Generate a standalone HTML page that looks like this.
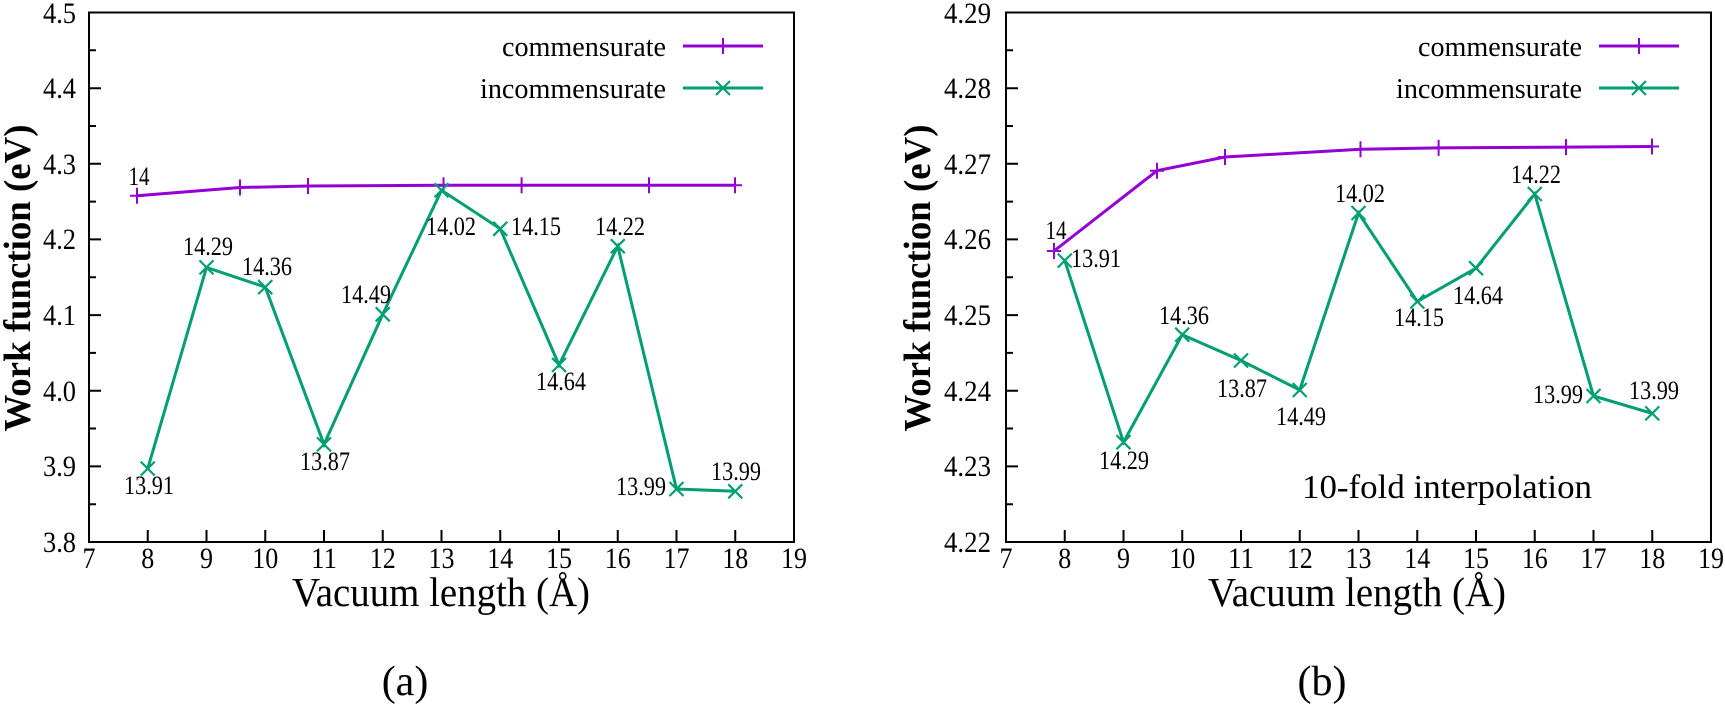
<!DOCTYPE html>
<html><head><meta charset="utf-8"><style>
html,body{margin:0;padding:0;background:#fff;}
svg{display:block;}
text{font-family:"Liberation Serif","DejaVu Serif",serif;}
</style></head><body>
<svg width="1725" height="708" viewBox="0 0 1725 708" xmlns="http://www.w3.org/2000/svg" font-family="Liberation Serif, serif">
<defs>
<g id="pl"><path d="M-7 0H7M0 -8V8" stroke="#9400d3" stroke-width="2"/></g>
<g id="xm"><path d="M-7 -7L7 7M-7 7L7 -7" stroke="#009e73" stroke-width="2.2"/></g>
</defs>

<!-- ============ LEFT PLOT ============ -->
<g stroke="#000" stroke-width="2" fill="none">
<rect x="89" y="12.5" width="705" height="529.5"/>
<path d="M89 542h12M89 466.4h12M89 390.7h12M89 315.1h12M89 239.4h12M89 163.8h12M89 88.2h12
M89 504.2h7M89 428.5h7M89 352.9h7M89 277.3h7M89 201.6h7M89 126h7M89 50.3h7"/>
<path d="M147.75 542v-12M206.5 542v-12M265.25 542v-12M324 542v-12M382.75 542v-12M441.5 542v-12M500.25 542v-12M559 542v-12M617.75 542v-12M676.5 542v-12M735.25 542v-12"/>
</g>
<g font-size="30" text-anchor="end">
<text x="76" y="552" textLength="33" lengthAdjust="spacingAndGlyphs">3.8</text><text x="76" y="476" textLength="33" lengthAdjust="spacingAndGlyphs">3.9</text><text x="76" y="401" textLength="33" lengthAdjust="spacingAndGlyphs">4.0</text>
<text x="76" y="325" textLength="33" lengthAdjust="spacingAndGlyphs">4.1</text><text x="76" y="249" textLength="33" lengthAdjust="spacingAndGlyphs">4.2</text><text x="76" y="174" textLength="33" lengthAdjust="spacingAndGlyphs">4.3</text>
<text x="76" y="98" textLength="33" lengthAdjust="spacingAndGlyphs">4.4</text><text x="76" y="23" textLength="33" lengthAdjust="spacingAndGlyphs">4.5</text>
</g>
<g font-size="30" text-anchor="middle">
<text x="89" y="568" textLength="13" lengthAdjust="spacingAndGlyphs">7</text><text x="147.75" y="568" textLength="13" lengthAdjust="spacingAndGlyphs">8</text><text x="206.5" y="568" textLength="13" lengthAdjust="spacingAndGlyphs">9</text>
<text x="265.25" y="568" textLength="26" lengthAdjust="spacingAndGlyphs">10</text><text x="324" y="568" textLength="26" lengthAdjust="spacingAndGlyphs">11</text><text x="382.75" y="568" textLength="26" lengthAdjust="spacingAndGlyphs">12</text>
<text x="441.5" y="568" textLength="26" lengthAdjust="spacingAndGlyphs">13</text><text x="500.25" y="568" textLength="26" lengthAdjust="spacingAndGlyphs">14</text><text x="559" y="568" textLength="26" lengthAdjust="spacingAndGlyphs">15</text>
<text x="617.75" y="568" textLength="26" lengthAdjust="spacingAndGlyphs">16</text><text x="676.5" y="568" textLength="26" lengthAdjust="spacingAndGlyphs">17</text><text x="735.25" y="568" textLength="26" lengthAdjust="spacingAndGlyphs">18</text>
<text x="794" y="568" textLength="26" lengthAdjust="spacingAndGlyphs">19</text>
</g>
<text x="441" y="606" font-size="41" text-anchor="middle" textLength="298" lengthAdjust="spacingAndGlyphs">Vacuum length (Å)</text>
<text transform="translate(30,278) rotate(-90)" font-size="38" font-weight="bold" text-anchor="middle" textLength="307" lengthAdjust="spacingAndGlyphs">Work function (eV)</text>
<text x="405" y="695" font-size="42" text-anchor="middle">(a)</text>

<g font-size="29" text-anchor="end">
<text x="666" y="56" textLength="164" lengthAdjust="spacingAndGlyphs">commensurate</text>
<text x="666" y="98" textLength="186" lengthAdjust="spacingAndGlyphs">incommensurate</text>
</g>
<path d="M683 46H763" stroke="#9400d3" stroke-width="3"/><use href="#pl" x="723" y="46"/>
<path d="M683 88H763" stroke="#009e73" stroke-width="3"/><use href="#xm" x="723" y="88"/>

<polyline fill="none" stroke="#9400d3" stroke-width="3" points="137,195.7 240,187.5 308,186 443.5,185.3 521.6,185.3 649,185.3 735,185.3"/>
<g><use href="#pl" x="137" y="195.7"/><use href="#pl" x="240" y="187.5"/><use href="#pl" x="308" y="186"/><use href="#pl" x="443.5" y="185.3"/><use href="#pl" x="521.6" y="185.3"/><use href="#pl" x="649" y="185.3"/><use href="#pl" x="735" y="185.3"/></g>
<polyline fill="none" stroke="#009e73" stroke-width="3" points="147.75,468.6 206.5,267.4 265.25,287.1 324,444.4 382.75,314.3 441.5,190.3 500.25,228.8 559,365 617.75,246.2 676.5,489 735.25,491.3"/>
<g><use href="#xm" x="147.75" y="468.6"/><use href="#xm" x="206.5" y="267.4"/><use href="#xm" x="265.25" y="287.1"/><use href="#xm" x="324" y="444.4"/><use href="#xm" x="382.75" y="314.3"/><use href="#xm" x="441.5" y="190.3"/><use href="#xm" x="500.25" y="228.8"/><use href="#xm" x="559" y="365"/><use href="#xm" x="617.75" y="246.2"/><use href="#xm" x="676.5" y="489"/><use href="#xm" x="735.25" y="491.3"/></g>
<g font-size="26" text-anchor="middle">
<text x="139" y="185" textLength="21" lengthAdjust="spacingAndGlyphs">14</text>
<text x="208" y="255" textLength="50" lengthAdjust="spacingAndGlyphs">14.29</text>
<text x="267" y="275" textLength="50" lengthAdjust="spacingAndGlyphs">14.36</text>
<text x="366" y="303" textLength="50" lengthAdjust="spacingAndGlyphs">14.49</text>
<text x="451" y="235" textLength="50" lengthAdjust="spacingAndGlyphs">14.02</text>
<text x="536" y="235" textLength="50" lengthAdjust="spacingAndGlyphs">14.15</text>
<text x="620" y="235" textLength="50" lengthAdjust="spacingAndGlyphs">14.22</text>
<text x="561" y="390" textLength="50" lengthAdjust="spacingAndGlyphs">14.64</text>
<text x="325" y="470" textLength="50" lengthAdjust="spacingAndGlyphs">13.87</text>
<text x="149" y="494" textLength="50" lengthAdjust="spacingAndGlyphs">13.91</text>
<text x="641" y="495" textLength="50" lengthAdjust="spacingAndGlyphs">13.99</text>
<text x="736" y="480" textLength="50" lengthAdjust="spacingAndGlyphs">13.99</text>
</g>

<!-- ============ RIGHT PLOT ============ -->
<g stroke="#000" stroke-width="2" fill="none">
<rect x="1006" y="12.5" width="705" height="529.5"/>
<path d="M1006 542h12M1006 466.4h12M1006 390.7h12M1006 315.1h12M1006 239.4h12M1006 163.8h12M1006 88.2h12
M1006 504.2h7M1006 428.5h7M1006 352.9h7M1006 277.3h7M1006 201.6h7M1006 126h7M1006 50.3h7"/>
<path d="M1064.75 542v-12M1123.5 542v-12M1182.25 542v-12M1241 542v-12M1299.75 542v-12M1358.5 542v-12M1417.25 542v-12M1476 542v-12M1534.75 542v-12M1593.5 542v-12M1652.25 542v-12"/>
</g>
<g font-size="30" text-anchor="end">
<text x="991" y="552" textLength="47" lengthAdjust="spacingAndGlyphs">4.22</text><text x="991" y="476" textLength="47" lengthAdjust="spacingAndGlyphs">4.23</text><text x="991" y="401" textLength="47" lengthAdjust="spacingAndGlyphs">4.24</text>
<text x="991" y="325" textLength="47" lengthAdjust="spacingAndGlyphs">4.25</text><text x="991" y="249" textLength="47" lengthAdjust="spacingAndGlyphs">4.26</text><text x="991" y="174" textLength="47" lengthAdjust="spacingAndGlyphs">4.27</text>
<text x="991" y="98" textLength="47" lengthAdjust="spacingAndGlyphs">4.28</text><text x="991" y="23" textLength="47" lengthAdjust="spacingAndGlyphs">4.29</text>
</g>
<g font-size="30" text-anchor="middle">
<text x="1006" y="568" textLength="13" lengthAdjust="spacingAndGlyphs">7</text><text x="1064.75" y="568" textLength="13" lengthAdjust="spacingAndGlyphs">8</text><text x="1123.5" y="568" textLength="13" lengthAdjust="spacingAndGlyphs">9</text>
<text x="1182.25" y="568" textLength="26" lengthAdjust="spacingAndGlyphs">10</text><text x="1241" y="568" textLength="26" lengthAdjust="spacingAndGlyphs">11</text><text x="1299.75" y="568" textLength="26" lengthAdjust="spacingAndGlyphs">12</text>
<text x="1358.5" y="568" textLength="26" lengthAdjust="spacingAndGlyphs">13</text><text x="1417.25" y="568" textLength="26" lengthAdjust="spacingAndGlyphs">14</text><text x="1476" y="568" textLength="26" lengthAdjust="spacingAndGlyphs">15</text>
<text x="1534.75" y="568" textLength="26" lengthAdjust="spacingAndGlyphs">16</text><text x="1593.5" y="568" textLength="26" lengthAdjust="spacingAndGlyphs">17</text><text x="1652.25" y="568" textLength="26" lengthAdjust="spacingAndGlyphs">18</text>
<text x="1711" y="568" textLength="26" lengthAdjust="spacingAndGlyphs">19</text>
</g>
<text x="1357" y="606" font-size="41" text-anchor="middle" textLength="298" lengthAdjust="spacingAndGlyphs">Vacuum length (Å)</text>
<text transform="translate(930,278) rotate(-90)" font-size="38" font-weight="bold" text-anchor="middle" textLength="307" lengthAdjust="spacingAndGlyphs">Work function (eV)</text>
<text x="1322" y="695" font-size="42" text-anchor="middle">(b)</text>
<text x="1302" y="498" font-size="34" textLength="290" lengthAdjust="spacingAndGlyphs">10-fold interpolation</text>

<g font-size="29" text-anchor="end">
<text x="1582" y="56" textLength="164" lengthAdjust="spacingAndGlyphs">commensurate</text>
<text x="1582" y="98" textLength="186" lengthAdjust="spacingAndGlyphs">incommensurate</text>
</g>
<path d="M1599 46H1679" stroke="#9400d3" stroke-width="3"/><use href="#pl" x="1639" y="46"/>
<path d="M1599 88H1679" stroke="#009e73" stroke-width="3"/><use href="#xm" x="1639" y="88"/>

<polyline fill="none" stroke="#9400d3" stroke-width="3" points="1054,251 1157,170.7 1225,157 1360.5,149.3 1438.6,147.9 1566,147.1 1652,146.5"/>
<g><use href="#pl" x="1054" y="251"/><use href="#pl" x="1157" y="170.7"/><use href="#pl" x="1225" y="157"/><use href="#pl" x="1360.5" y="149.3"/><use href="#pl" x="1438.6" y="147.9"/><use href="#pl" x="1566" y="147.1"/><use href="#pl" x="1652" y="146.5"/></g>
<polyline fill="none" stroke="#009e73" stroke-width="3" points="1064.75,260.6 1123.5,442.2 1182.25,334.7 1241,360.5 1299.75,390 1358.5,213 1417.25,301.5 1476,268.2 1534.75,194 1593.5,396 1652.25,413.4"/>
<g><use href="#xm" x="1064.75" y="260.6"/><use href="#xm" x="1123.5" y="442.2"/><use href="#xm" x="1182.25" y="334.7"/><use href="#xm" x="1241" y="360.5"/><use href="#xm" x="1299.75" y="390"/><use href="#xm" x="1358.5" y="213"/><use href="#xm" x="1417.25" y="301.5"/><use href="#xm" x="1476" y="268.2"/><use href="#xm" x="1534.75" y="194"/><use href="#xm" x="1593.5" y="396"/><use href="#xm" x="1652.25" y="413.4"/></g>
<g font-size="26" text-anchor="middle">
<text x="1056" y="239" textLength="21" lengthAdjust="spacingAndGlyphs">14</text>
<text x="1096" y="267" textLength="50" lengthAdjust="spacingAndGlyphs">13.91</text>
<text x="1124" y="469" textLength="50" lengthAdjust="spacingAndGlyphs">14.29</text>
<text x="1184" y="324" textLength="50" lengthAdjust="spacingAndGlyphs">14.36</text>
<text x="1242" y="397" textLength="50" lengthAdjust="spacingAndGlyphs">13.87</text>
<text x="1301" y="425" textLength="50" lengthAdjust="spacingAndGlyphs">14.49</text>
<text x="1360" y="202" textLength="50" lengthAdjust="spacingAndGlyphs">14.02</text>
<text x="1419" y="326" textLength="50" lengthAdjust="spacingAndGlyphs">14.15</text>
<text x="1478" y="304" textLength="50" lengthAdjust="spacingAndGlyphs">14.64</text>
<text x="1536" y="183" textLength="50" lengthAdjust="spacingAndGlyphs">14.22</text>
<text x="1558" y="403" textLength="50" lengthAdjust="spacingAndGlyphs">13.99</text>
<text x="1654" y="399" textLength="50" lengthAdjust="spacingAndGlyphs">13.99</text>
</g>
</svg>
</body></html>
